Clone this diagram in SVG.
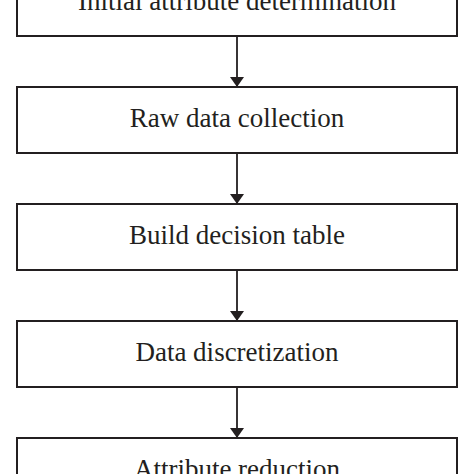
<svg xmlns="http://www.w3.org/2000/svg" width="474" height="474" viewBox="0 0 474 474">
<style>
.box{fill:#fff;stroke:#231f20;stroke-width:2}
.lbl{font-family:"Liberation Serif","Times New Roman",serif;font-size:27px;fill:#231f20;text-anchor:middle}
.conn{stroke:#231f20;stroke-width:1.8;fill:none}
</style>
<defs>
<marker id="arr" viewBox="0 0 10 14" refX="10" refY="7" markerUnits="userSpaceOnUse" markerWidth="10" markerHeight="14" orient="auto">
<path d="M0,0 L10,7 L0,14 Z" fill="#231f20"/>
</marker>
</defs>
<rect width="474" height="474" fill="#fff"/>
<g id="connectors">
<line class="conn" x1="237" y1="36" x2="237" y2="87" marker-end="url(#arr)"/>
<line class="conn" x1="237" y1="153" x2="237" y2="204" marker-end="url(#arr)"/>
<line class="conn" x1="237" y1="270" x2="237" y2="321" marker-end="url(#arr)"/>
<line class="conn" x1="237" y1="387" x2="237" y2="438" marker-end="url(#arr)"/>
</g>
<g id="node1">
<rect class="box" x="17" y="-30" width="440" height="66"/>
<text class="lbl" x="237" y="10">Initial attribute determination</text>
</g>
<g id="node2">
<rect class="box" x="17" y="87" width="440" height="66"/>
<text class="lbl" x="237" y="127">Raw data collection</text>
</g>
<g id="node3">
<rect class="box" x="17" y="204" width="440" height="66"/>
<text class="lbl" x="237" y="244">Build decision table</text>
</g>
<g id="node4">
<rect class="box" x="17" y="321" width="440" height="66"/>
<text class="lbl" x="237" y="361">Data discretization</text>
</g>
<g id="node5">
<rect class="box" x="17" y="438" width="440" height="66"/>
<text class="lbl" x="237" y="478">Attribute reduction</text>
</g>
</svg>
